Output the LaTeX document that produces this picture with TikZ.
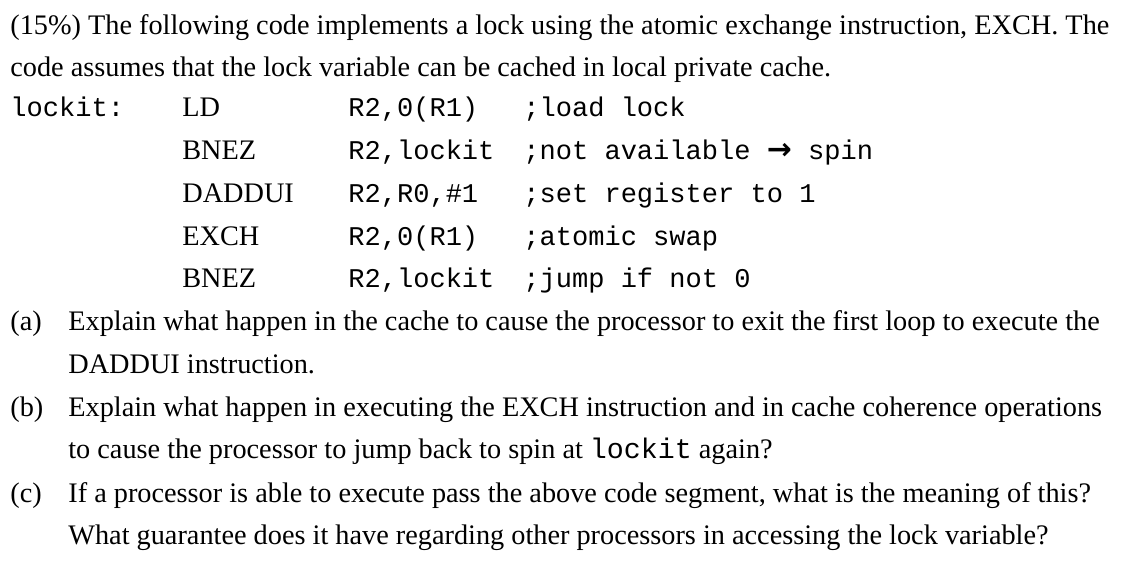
\documentclass[tikz,border=0pt]{standalone}
\usepackage{fontspec}
\setmainfont{Liberation Serif}
\setmonofont{Liberation Mono}
\begin{document}
\begin{tikzpicture}[x=0.02cm,y=-0.02cm,
  t/.style={anchor=base west,inner sep=0pt,font=\fontsize{16.1}{18}\selectfont},
  c/.style={anchor=base west,inner sep=0pt,font=\ttfamily\fontsize{15.4}{17}\selectfont}]
\useasboundingbox (0,0) rectangle (1127,564);
\node[t] (l1) at (10,35) {(15\%) The following code implements a lock using the atomic exchange instruction, EXCH. The};
\node[t] (l2) at (10,77) {code assumes that the lock variable can be cached in local private cache.};
\node[c] (k1) at (10,117) {lockit:};
\foreach \y/\op/\arg/\cm [count=\i] in {117/LD/{R2,0(R1)}/{;load lock},160/BNEZ/{R2,lockit}/{;not available {\fontspec{DejaVu Sans}\fontsize{17}{17}\selectfont\bfseries →} spin},203/DADDUI/{R2,R0,\#1}/{;set register to 1},246/EXCH/{R2,0(R1)}/{;atomic swap},288/BNEZ/{R2,lockit}/{;jump if not 0}}{
  \node[t] (op\i) at (182,\y) {\op};
  \node[c] (ar\i) at (348,\y) {\arg};
  \node[c] (cm\i) at (523,\y) {\cm};
}
\node[t] (a0) at (10,331) {(a)};
\node[t] (a1) at (68,331) {Explain what happen in the cache to cause the processor to exit the first loop to execute the};
\node[t] (a2) at (68,374) {DADDUI instruction.};
\node[t] (b0) at (10,417) {(b)};
\node[t] (b1) at (68,417) {Explain what happen in executing the EXCH instruction and in cache coherence operations};
\node[t] (b2) at (68,459) {to cause the processor to jump back to spin at {\ttfamily lockit} again?};
\node[t] (c0) at (10,502) {(c)};
\node[t] (c1) at (68,502) {If a processor is able to execute pass the above code segment, what is the meaning of this?};
\node[t] (c2) at (68,544) {What guarantee does it have regarding other processors in accessing the lock variable?};
\end{tikzpicture}
\end{document}
